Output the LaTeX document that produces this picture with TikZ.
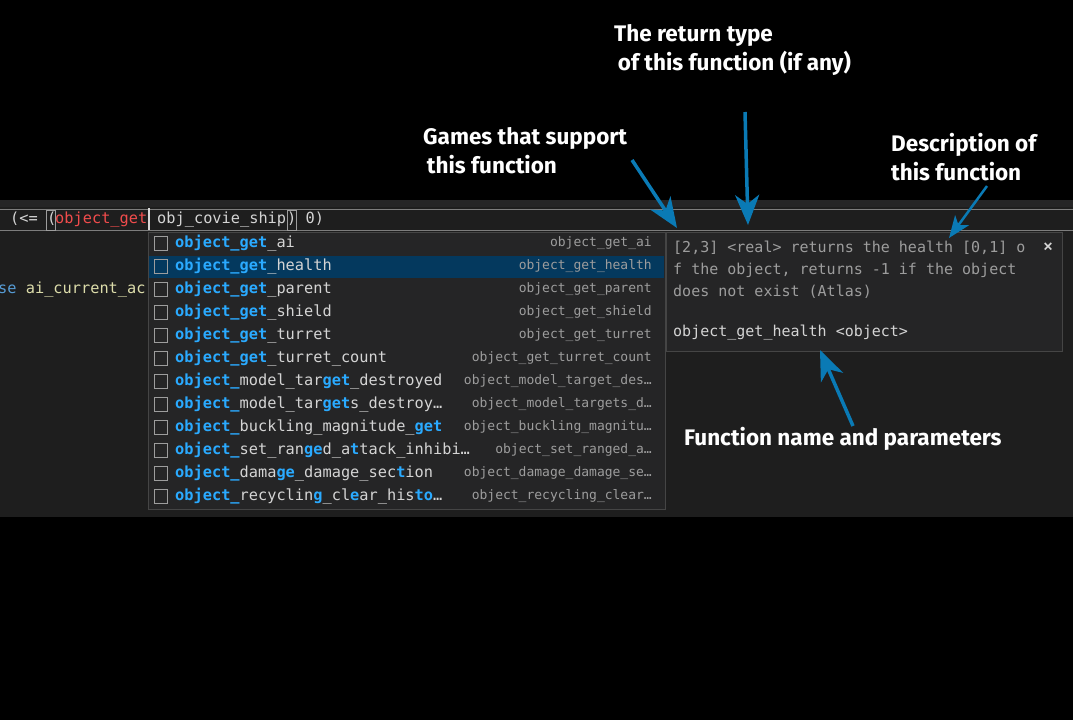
\documentclass[tikz,border=0pt]{standalone}
\usepackage{fontspec}
\setmainfont{Fira Sans}
\newfontfamily\mono{DejaVu Sans Mono}
\usetikzlibrary{arrows.meta}
\definecolor{bg}{HTML}{1E1E1E}
\definecolor{pn}{HTML}{252526}
\definecolor{bd}{HTML}{454545}
\definecolor{hl}{HTML}{04395E}
\definecolor{mb}{HTML}{2AAAFF}
\definecolor{tx}{HTML}{D4D4D4}
\definecolor{gy}{HTML}{9D9D9D}
\definecolor{ar}{HTML}{0A7AB5}
\definecolor{rd}{HTML}{F14C4C}
\definecolor{yl}{HTML}{DCDCAA}
\definecolor{kb}{HTML}{569CD6}
\newcommand\Bm[1]{\textcolor{mb}{\bfseries #1}}
\newcommand\Nm[1]{\textcolor{tx}{#1}}
\begin{document}
\begin{tikzpicture}[x=1pt,y=-1pt,
  item/.style={anchor=west,inner sep=0pt,font=\mono\fontsize{15.3}{18}\selectfont,text=tx},
  lab/.style={anchor=east,inner sep=0pt,font=\mono\fontsize{13}{16}\selectfont,text=gy},
  desc/.style={anchor=west,inner sep=0pt,font=\mono\fontsize{15}{18}\selectfont,text=gy},
  note/.style={anchor=west,inner sep=0pt,font=\fontsize{22.5}{29}\selectfont\bfseries,text=white,align=left},
  arr/.style={draw=ar,line width=3.5pt,-{Stealth[length=30pt,width=24pt,inset=9pt]}},
  box/.style={draw=gy,line width=1pt}]
\fill[black] (0,0) rectangle (1073,720);
\useasboundingbox (0,0) rectangle (1073,720);
\fill[bg] (0,200) rectangle (1073,517);
\fill[pn] (0,200) rectangle (1073,207);
\draw[bd!70,line width=1pt] (0,209) -- (1073,209) (0,230) -- (1073,230);
% editor text
\node[item] (c1) at (10,219) {(<= (};
\node[item,text=rd] (c2) at (55,219) {object\_get};
\node[item] (c3) at (157,219) {obj\_covie\_ship};
\node[item] (c4) at (287,219) {) 0)};
\draw[gy,line width=0.8pt] (46,210) rectangle (55,230);
\draw[gy,line width=0.8pt] (287,210) rectangle (296,230);
\draw[tx!90,line width=1.5pt] (149,208) -- (149,230);
\node[item] (code2) at (-2,289) {\textcolor{kb}{se} \textcolor{yl}{ai\_current\_ac}};
% suggest list
\fill[pn] (148,232) rectangle (665,509);
\draw[bd,line width=1pt] (148,232) rectangle (665,509);
\fill[hl] (149,256) rectangle (664,278);
\foreach \i in {0,...,11}{\draw[box] (154,236+\i*23) rectangle (167,250+\i*23);}
\node[item] (i1) at (175,243) {\Bm{object\_get}\Nm{\_ai}};
\node[item] (i2) at (175,266) {\Bm{object\_get}\Nm{\_health}};
\node[item] (i3) at (175,289) {\Bm{object\_get}\Nm{\_parent}};
\node[item] (i4) at (175,312) {\Bm{object\_get}\Nm{\_shield}};
\node[item] (i5) at (175,335) {\Bm{object\_get}\Nm{\_turret}};
\node[item] (i6) at (175,358) {\Bm{object\_get}\Nm{\_turret\_count}};
\node[item] (i7) at (175,381) {\Bm{object\_}\Nm{model\_tar}\Bm{get}\Nm{\_destroyed}};
\node[item] (i8) at (175,404) {\Bm{object\_}\Nm{model\_tar}\Bm{get}\Nm{s\_destroy…}};
\node[item] (i9) at (175,427) {\Bm{object\_}\Nm{buckling\_magnitude\_}\Bm{get}};
\node[item] (i10) at (175,450) {\Bm{object\_}\Nm{set\_ran}\Bm{ge}\Nm{d\_a}\Bm{t}\Nm{tack\_inhibi…}};
\node[item] (i11) at (175,473) {\Bm{object\_}\Nm{dama}\Bm{ge}\Nm{\_damage\_sec}\Bm{t}\Nm{ion}};
\node[item] (i12) at (175,496) {\Bm{object\_}\Nm{recyclin}\Bm{g}\Nm{\_cl}\Bm{e}\Nm{ar\_his}\Bm{to}\Nm{…}};
\node[lab] (l1) at (652,243) {object\_get\_ai};
\node[lab] (l2) at (652,266) {object\_get\_health};
\node[lab] (l3) at (652,289) {object\_get\_parent};
\node[lab] (l4) at (652,312) {object\_get\_shield};
\node[lab] (l5) at (652,335) {object\_get\_turret};
\node[lab] (l6) at (652,358) {object\_get\_turret\_count};
\node[lab] (l7) at (652,381) {object\_model\_target\_des…};
\node[lab] (l8) at (652,404) {object\_model\_targets\_d…};
\node[lab] (l9) at (652,427) {object\_buckling\_magnitu…};
\node[lab] (l10) at (652,450) {object\_set\_ranged\_a…};
\node[lab] (l11) at (652,473) {object\_damage\_damage\_se…};
\node[lab] (l12) at (652,496) {object\_recycling\_clear…};
% detail panel
\fill[pn] (666,232) rectangle (1062,351);
\draw[bd,line width=1pt] (666,232) rectangle (1062,351);
\node[desc] (d1) at (673,248) {[2,3] <real> returns the health [0,1] o};
\node[desc] (d2) at (673,270) {f the object, returns -1 if the object};
\node[desc] (d3) at (673,292) {does not exist (Atlas)};
\node[desc,text=tx] (sig) at (673,333) {object\_get\_health <object>};
\node[inner sep=0pt,text=tx,font=\fontsize{22}{22}\selectfont] (x) at (1048,248) {×};
% annotations
\node[note] (n1) at (614,50) {The return type\\\,of this function (if any)};
\node[note] (n2) at (423,151) {Games that support\\\,this function};
\node[note] (n3) at (891,157) {Description of\\this function};
\node[note] (n4) at (684,439) {Function name and parameters};
\coordinate (a1s) at (632,160); \coordinate (a1e) at (677,228);
\coordinate (a2s) at (745,112); \coordinate (a2e) at (748,225);
\coordinate (a3s) at (987,186); \coordinate (a3e) at (949,238);
\coordinate (a4s) at (853,426); \coordinate (a4e) at (820,350);
\draw[arr] (a1s) -- (a1e);
\draw[arr] (a2s) -- (a2e);
\draw[arr,line width=2.5pt,-{Stealth[length=22pt,width=17pt,inset=6pt]}] (a3s) -- (a3e);
\draw[arr] (a4s) -- (a4e);
\end{tikzpicture}
\end{document}
